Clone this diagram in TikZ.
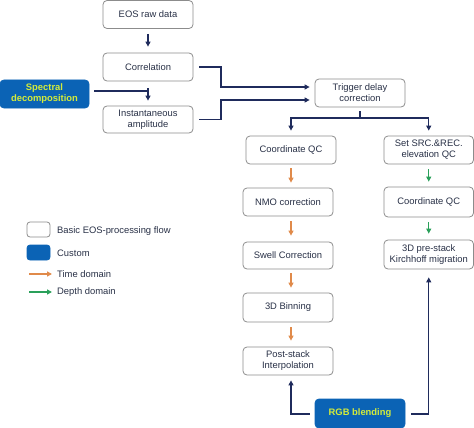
\documentclass[tikz,border=0pt]{standalone}
\usepackage{fontspec}
\setmainfont{Liberation Sans}
\usetikzlibrary{arrows.meta,calc}
\definecolor{boxgray}{HTML}{8C8C8C}
\definecolor{txt}{HTML}{283046}
\definecolor{cblue}{HTML}{0B63B5}
\definecolor{cyellow}{HTML}{D4EC3A}
\definecolor{navy}{HTML}{1F2B5C}
\definecolor{torange}{HTML}{E08A4A}
\definecolor{dgreen}{HTML}{2AA05A}
\tikzset{
  box/.style={draw=boxgray, line width=0.8pt, rounded corners=4pt, minimum width=90pt,
    minimum height=28pt, inner sep=0pt, align=center, text=txt,
    font=\fontsize{9.4}{11}\selectfont},
  cust/.style={box, fill=cblue, draw=cblue, text=cyellow,
    font=\fontsize{9.4}{11}\selectfont\bfseries},
  narr/.style={draw=navy, line width=1.2pt, -{Triangle[length=5pt,width=5pt]}},
  nline/.style={draw=navy, line width=1.2pt},
  oarr/.style={draw=torange, line width=1.2pt, -{Triangle[length=5pt,width=5pt]}},
  garr/.style={draw=dgreen, line width=1.2pt, -{Triangle[length=5pt,width=5pt]}},
  legtxt/.style={anchor=west, inner sep=0pt, text=txt, font=\fontsize{9.4}{11}\selectfont}
}
\begin{document}
\begin{tikzpicture}[x=1pt,y=-1pt]
\useasboundingbox (0,0) rectangle (474,428);
% left column top
\node[box] (raw) at (148,14.5) {EOS raw data};
\node[box] (corr) at (148,67) {Correlation};
\node[cust, minimum width=89pt] (spec) at (44.5,94) {Spectral\\decomposition};
\node[box, minimum height=27pt] (inst) at (148,119.5) {Instantaneous\\amplitude};
\node[box] (trig) at (360,93) {Trigger delay\\correction};
% time domain column
\node[box] (cqc1) at (291,150) {Coordinate QC};
\node[box] (nmo) at (288,202) {NMO correction};
\node[box, minimum height=27pt] (swell) at (288,255.5) {Swell Correction};
\node[box, minimum height=29pt] (bin) at (288,307.5) {3D Binning};
\node[box] (post) at (288,361) {Post-stack\\Interpolation};
% depth domain column
\node[box, minimum width=89.5pt] (set) at (428.75,150) {Set SRC.\&REC.\\elevation QC};
\node[box, minimum width=89.5pt, minimum height=30pt] (cqc2) at (428.75,202) {Coordinate QC};
\node[box, minimum width=89.5pt, minimum height=29pt] (mig) at (428.75,254.5) {3D pre-stack\\Kirchhoff migration};
% RGB
\node[cust, minimum height=29pt] (rgb) at (360,413.5) {RGB blending};

% connectors
\draw[narr, shorten <=5pt, shorten >=6pt] (raw.south) -- (corr.north);
\draw[narr, shorten <=7pt, shorten >=5pt] (corr.south) -- (inst.north);
\coordinate (sj) at (148,91);
\draw[nline] ($(spec.east)+(5,-3)$) -- (sj);
\draw[narr] ($(corr.east)+(6,0)$) -| (221,87) -- ($(trig.west)+(-5,-6)$);
\draw[narr] ($(inst.east)+(6,0)$) -| (221,100) -- ($(trig.west)+(-5,7)$);
\coordinate (tj) at (360,118);
\draw[nline] ($(trig.south)+(0,4)$) -- (tj);
\draw[narr, shorten >=5pt] (tj) -| (cqc1.north);
\draw[narr, shorten >=5pt] (tj) -| (set.north);
% time-domain arrows
\draw[oarr, shorten <=4pt, shorten >=5pt] (cqc1.south) -- (cqc1.south |- nmo.north);
\draw[oarr, shorten <=5pt, shorten >=6pt] (cqc1.south |- nmo.south) -- (cqc1.south |- swell.north);
\draw[oarr, shorten <=4pt, shorten >=5pt] (cqc1.south |- swell.south) -- (cqc1.south |- bin.north);
\draw[oarr, shorten <=5pt, shorten >=6pt] (cqc1.south |- bin.south) -- (cqc1.south |- post.north);
% depth-domain arrows
\draw[garr, shorten <=5pt, shorten >=5pt] (set.south) -- (cqc2.north);
\draw[garr, shorten <=5pt, shorten >=6pt] (cqc2.south) -- (mig.north);
% RGB arrows
\draw[narr, shorten >=5pt] ($(rgb.west)+(-5,0.5)$) -| (cqc1.south |- post.south);
\draw[narr, shorten >=8pt] ($(rgb.east)+(6,0.5)$) -| (mig.south);

% legend
\node[draw=boxgray, line width=0.8pt, rounded corners=3pt, minimum width=23pt, minimum height=15pt, inner sep=0pt] (lb) at (38.5,229.5) {};
\node[legtxt] (lbt) at (57,231) {Basic EOS-processing flow};
\node[fill=cblue, draw=cblue, line width=0.8pt, rounded corners=3pt, minimum width=23pt, minimum height=15pt, inner sep=0pt] (lc) at (38.5,252.5) {};
\node[legtxt] (lct) at (57,253) {Custom};
\coordinate (lo1) at (29,274);
\coordinate (lo2) at (52,274);
\draw[oarr] (lo1) -- (lo2);
\node[legtxt] (lot) at (57,274) {Time domain};
\coordinate (lg1) at (29,292);
\coordinate (lg2) at (52,292);
\draw[garr] (lg1) -- (lg2);
\node[legtxt] (lgt) at (57,292) {Depth domain};
\end{tikzpicture}
\end{document}
